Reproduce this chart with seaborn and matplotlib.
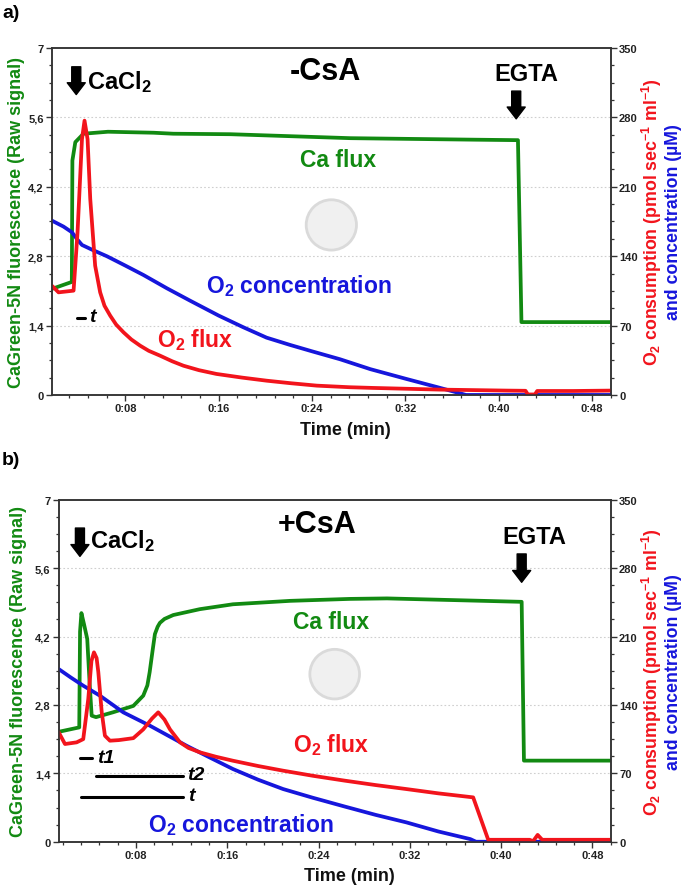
import matplotlib
matplotlib.use("Agg")
import matplotlib.pyplot as plt
from matplotlib.ticker import FixedLocator, MultipleLocator, FuncFormatter
from matplotlib.patches import Ellipse
import seaborn as sns
import pandas as pd

sns.set_style("white")
plt.rcParams['font.family'] = ['Liberation Sans', 'DejaVu Sans']
plt.rcParams['mathtext.default'] = 'regular'
plt.rcParams['text.color'] = 'black'

# ---------------- data (time in minutes) ----------------
# Panel a) -CsA
a_ca_t = [1.7, 3.4, 3.45, 3.7, 4.4, 6.5, 10.4, 12.1, 17.0, 27.3, 37.8, 41.65, 41.95, 49.6]
a_ca_v = [2.14, 2.28, 4.73, 5.10, 5.27, 5.31, 5.29, 5.27, 5.26, 5.18, 5.15, 5.14, 1.47, 1.47]

a_flux_t = [1.7, 1.83, 2.26, 3.55, 3.89, 4.27, 4.49, 4.75, 4.98, 5.4, 5.83, 6.2, 6.69, 7.2,
            7.83, 8.5, 9.26, 10.0, 10.97, 12.0, 12.97, 14.3, 15.8, 18.0, 20.1, 22.2, 24.4,
            27.2, 29.2, 34.95, 40.7, 42.3, 42.5, 43.1, 43.3, 46.4, 49.6]
a_flux_v = [110, 108.6, 103.5, 105.2, 164, 258, 276.7, 258, 197.7, 130.4, 103.5, 90, 80, 71,
            63.2, 56, 49.7, 44.5, 39.6, 34, 29.5, 25, 21.2, 17.5, 14.4, 11.8, 9.4,
            7.8, 7.1, 5.4, 4.4, 4.2, 0.5, 0.5, 4.0, 4.0, 4.4]

a_conc_t = [1.7, 2.69, 3.41, 3.84, 4.27, 5.12, 6.41, 8.0, 9.54, 11.55, 13.54, 16.0, 18.1,
            20.1, 22.1, 24.0, 26.4, 29.0, 32.1, 34.7, 37.2, 49.6]
a_conc_v = [175.8, 169.8, 164.1, 157.3, 151.3, 146.6, 139.9, 130.4, 121.0, 107.6, 95.1, 80.0,
            68.3, 57.8, 50.5, 44.0, 36.0, 26.0, 16.1, 8.0, 0.0, 0.0]

# Panel b) +CsA
b_ca_t = [1.23, 3.03, 3.1, 3.22, 3.45, 3.73, 3.95, 4.12, 4.5, 6.0, 7.77, 8.64, 9.0, 9.2,
          9.45, 9.66, 9.9, 10.1, 10.5, 11.27, 13.6, 16.5, 21.5, 26.75, 30.0, 41.8, 42.0, 49.6]
b_ca_v = [2.25, 2.34, 4.3, 4.68, 4.45, 4.15, 3.2, 2.58, 2.55, 2.65, 2.78, 2.99, 3.2, 3.47,
          3.9, 4.25, 4.4, 4.48, 4.56, 4.64, 4.76, 4.86, 4.93, 4.97, 4.98, 4.91, 1.66, 1.66]

b_flux_t = [1.23, 1.78, 2.8, 3.38, 3.82, 4.1, 4.32, 4.55, 4.7, 5.0, 5.28, 5.72, 6.5, 7.77,
            8.64, 9.4, 9.95, 10.5, 10.98, 11.86, 12.6, 13.6, 15.0, 16.5, 18.7, 20.9, 23.5,
            26.3, 29.0, 31.7, 34.5, 37.55, 38.87, 42.5, 42.8, 43.2, 43.6, 49.6]
b_flux_v = [112, 100, 101.7, 105, 146, 185, 193.8, 188, 173.7, 132.6, 108.5, 103.4, 104, 106,
            115, 126, 132.4, 125, 115, 101.7, 96, 91.5, 87, 82.9, 77.5, 72.7, 67.5,
            62.5, 58, 53.9, 49.5, 45.4, 2.0, 2.0, 0.5, 7.0, 2.0, 2.0]

b_conc_t = [1.23, 2.3, 3.38, 4.85, 6.89, 9.23, 12.44, 14.5, 16.5, 18.7, 20.9, 23.5, 26.3,
            29.0, 31.7, 34.5, 37.3, 37.8, 49.6]
b_conc_v = [176.7, 168.0, 159.7, 149.4, 132.4, 118.7, 98.2, 86.0, 74.4, 63.5, 53.9, 45.0,
            36.0, 27.5, 19.8, 10.5, 2.7, 0.0, 0.0]

x_ticks = [8, 16, 24, 32, 40, 48]
left_ticks = [0, 1.4, 2.8, 4.2, 5.6, 7]
right_ticks = [0, 70, 140, 210, 280, 350]

GREEN = '#128a12'
RED = '#f2141c'
BLUE = '#1616dc'
LW = 2.7

fig = plt.figure(figsize=(6.85, 8.87), dpi=100)


def fmt_time(v, pos):
    m = int(round(v))
    return f"{m // 60}:{m % 60:02d}"


def fmt_left(v, pos):
    s = f"{v:.1f}".replace('.', ',')
    if s.endswith(',0'):
        s = s[:-2]
    return s


def make_panel(rect, xlim, ca_t, ca_v, fl_t, fl_v, co_t, co_v, lbl_xfrac):
    ax = fig.add_axes(rect)
    ax2 = ax.twinx()
    ax.set_zorder(1)
    ax2.set_zorder(2)
    ax.patch.set_visible(True)
    ax2.patch.set_visible(False)

    df_ca = pd.DataFrame({'t': ca_t, 'v': ca_v})
    df_fl = pd.DataFrame({'t': fl_t, 'v': fl_v})
    df_co = pd.DataFrame({'t': co_t, 'v': co_v})
    sns.lineplot(data=df_ca, x='t', y='v', ax=ax, color=GREEN, lw=LW,
                 estimator=None, sort=False, legend=False)
    sns.lineplot(data=df_co, x='t', y='v', ax=ax2, color=BLUE, lw=LW,
                 estimator=None, sort=False, legend=False)
    sns.lineplot(data=df_fl, x='t', y='v', ax=ax2, color=RED, lw=LW,
                 estimator=None, sort=False, legend=False)

    ax.set_xlim(*xlim)
    ax.set_ylim(0, 7)
    ax2.set_ylim(0, 350)
    ax.set_xlabel('')
    ax.set_ylabel('')
    ax2.set_ylabel('')

    ax.xaxis.set_major_locator(FixedLocator(x_ticks))
    ax.xaxis.set_major_formatter(FuncFormatter(fmt_time))
    ax.xaxis.set_minor_locator(MultipleLocator(1.6))
    ax.yaxis.set_major_locator(FixedLocator(left_ticks))
    ax.yaxis.set_major_formatter(FuncFormatter(fmt_left))
    ax.yaxis.set_minor_locator(MultipleLocator(0.35))
    ax2.yaxis.set_major_locator(FixedLocator(right_ticks))
    ax2.yaxis.set_minor_locator(MultipleLocator(17.5))

    for a in (ax, ax2):
        for sp in a.spines.values():
            sp.set_color('#333333')
            sp.set_linewidth(1.1)
    ax.tick_params(axis='both', which='major', direction='out', length=4, width=1,
                   color='#333333', labelsize=8, labelcolor='#222222', pad=2)
    ax.tick_params(axis='both', which='minor', direction='out', length=2.2, width=0.9,
                   color='#333333')
    ax.tick_params(axis='x', which='both', top=False, bottom=True)
    ax.tick_params(axis='y', which='both', left=True, right=False)
    ax2.tick_params(axis='y', which='major', direction='out', length=4, width=1,
                    color='#333333', labelsize=8, labelcolor='#222222', pad=2)
    ax2.tick_params(axis='y', which='minor', direction='out', length=2.2, width=0.9,
                    color='#333333', right=True)
    for lab in ax.get_xticklabels() + ax.get_yticklabels() + ax2.get_yticklabels():
        lab.set_fontweight('bold')

    for yv in left_ticks[1:-1]:
        ax.axhline(yv, color='#cfcfcf', lw=0.8, ls=(0, (1.5, 2)), zorder=0)

    # faint logo watermark
    ax.add_patch(Ellipse((0.5, 0.49), 0.09, 0.145, transform=ax.transAxes,
                         facecolor='#f0f0f0', edgecolor='#dadada', lw=2, zorder=0.5))

    ax.text(lbl_xfrac, 0.5, 'CaGreen-5N fluorescence (Raw signal)', transform=ax.transAxes,
            rotation=90, ha='center', va='center', color=GREEN, fontsize=13,
            fontweight='bold')
    ax.text(1.074, 0.5, 'O$_2$ consumption (pmol sec$^{-1}$ ml$^{-1}$)', transform=ax.transAxes,
            rotation=90, ha='center', va='center', color=RED, fontsize=12.8,
            fontweight='bold')
    ax.text(1.113, 0.5, 'and concentration (µM)', transform=ax.transAxes,
            rotation=90, ha='center', va='center', color=BLUE, fontsize=12.8,
            fontweight='bold')
    ax.text(0.526, -0.099, 'Time (min)', transform=ax.transAxes, ha='center', va='center',
            fontsize=13, fontweight='bold', color='#111111')
    return ax, ax2


def arrow(ax, x, y0, y1):
    ax.annotate('', xy=(x, y1), xytext=(x, y0),
                arrowprops=dict(facecolor='black', edgecolor='black', width=6.5,
                                headwidth=13, headlength=8.5, shrink=0), zorder=5)


# -------- panel a --------
axa, axa2 = make_panel([0.0759, 0.5536, 0.8156, 0.3912], (1.7, 49.6),
                       a_ca_t, a_ca_v, a_flux_t, a_flux_v, a_conc_t, a_conc_v, -0.063)
axa.text(25.1, 6.53, '-CsA', ha='center', va='center', fontsize=22, fontweight='bold')
axa.text(42.4, 6.48, 'EGTA', ha='center', va='center', fontsize=17, fontweight='bold')
arrow(axa, 41.5, 6.13, 5.57)
arrow(axa, 3.78, 6.62, 6.06)
axa.text(4.69, 6.2, 'CaCl$_2$', ha='left', va='baseline', fontsize=17, fontweight='bold')
axa.text(26.25, 4.76, 'Ca flux', ha='center', va='center', fontsize=16.5,
         fontweight='bold', color=GREEN)
axa.text(22.9, 2.22, 'O$_2$ concentration', ha='center', va='center', fontsize=16.5,
         fontweight='bold', color=BLUE)
axa.text(13.97, 1.13, 'O$_2$ flux', ha='center', va='center', fontsize=16.5,
         fontweight='bold', color=RED)
axa.plot([3.84, 4.5], [1.55, 1.55], color='black', lw=2.2, zorder=6)
axa.text(4.85, 1.58, 't', ha='left', va='center', fontsize=14, fontweight='bold',
         fontstyle='italic')

# -------- panel b --------
axb, axb2 = make_panel([0.0857, 0.0499, 0.8058, 0.3856], (1.23, 49.6),
                       b_ca_t, b_ca_v, b_flux_t, b_flux_v, b_conc_t, b_conc_v, -0.072)
axb.text(23.9, 6.50, '+CsA', ha='center', va='center', fontsize=22, fontweight='bold')
axb.text(42.9, 6.24, 'EGTA', ha='center', va='center', fontsize=17, fontweight='bold')
arrow(axb, 41.8, 5.89, 5.31)
arrow(axb, 3.09, 6.42, 5.84)
axb.text(3.97, 6.03, 'CaCl$_2$', ha='left', va='baseline', fontsize=17, fontweight='bold')
axb.text(25.1, 4.5, 'Ca flux', ha='center', va='center', fontsize=16.5,
         fontweight='bold', color=GREEN)
axb.text(25.1, 2.0, 'O$_2$ flux', ha='center', va='center', fontsize=16.5,
         fontweight='bold', color=RED)
axb.text(17.2, 0.36, 'O$_2$ concentration', ha='center', va='center', fontsize=16.5,
         fontweight='bold', color=BLUE)
for (x0, x1, yv, lab, xl) in [(3.09, 4.14, 1.71, 't1', 4.6),
                               (4.5, 12.1, 1.35, 't2', 12.45),
                               (3.15, 12.14, 0.92, 't', 12.55)]:
    axb.plot([x0, x1], [yv, yv], color='black', lw=2.2, zorder=6)
    axb.text(xl, yv + 0.02, lab, ha='left', va='center', fontsize=14, fontweight='bold',
             fontstyle='italic')

fig.text(0.003, 1 - 14 / 887, 'a)', ha='left', va='center', fontsize=14, fontweight='bold')
fig.text(0.003, 1 - 461 / 887, 'b)', ha='left', va='center', fontsize=14, fontweight='bold')

fig.savefig('out.png', dpi=100, facecolor='white')
